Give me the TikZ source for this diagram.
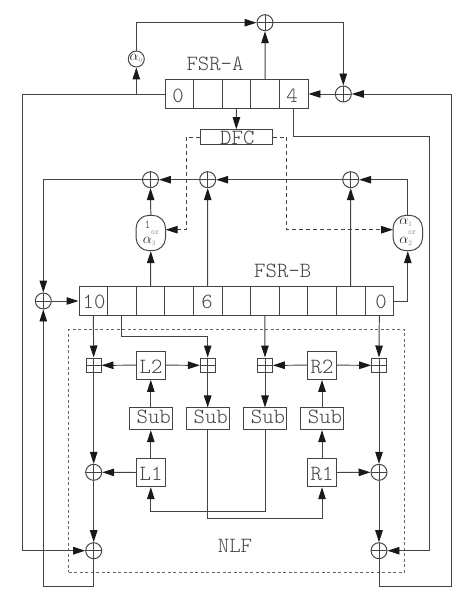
\documentclass[tikz,border=0pt]{standalone}
\usepackage{fontspec}
\setmonofont{Latin Modern Mono Light}
\usetikzlibrary{arrows.meta,calc}
\definecolor{ink}{HTML}{444444}
\tikzset{
  x=1pt,y=-1pt,
  every node/.style={text=ink,font=\fontsize{21.7}{21.7}\ttfamily},
  wire/.style={draw=ink,line width=0.98pt},
  arr/.style={wire,-{Triangle[length=12pt,width=7.5pt,color=black!90]}},
  dsh/.style={wire,dash pattern=on 4pt off 3pt},
  xorn/.style={draw=ink,circle,minimum size=16pt,inner sep=0pt,line width=0.98pt,path picture={
    \draw[ink,line width=0.98pt] (path picture bounding box.north)--(path picture bounding box.south)
    (path picture bounding box.west)--(path picture bounding box.east);}},
  addn/.style={draw=ink,rectangle,minimum size=14.6pt,inner sep=0pt,line width=0.98pt,path picture={
    \draw[ink,line width=0.98pt] (path picture bounding box.north)--(path picture bounding box.south)
    (path picture bounding box.west)--(path picture bounding box.east);}},
  cell/.style={draw=ink,rectangle,minimum width=28.6pt,minimum height=28.6pt,inner sep=0pt,line width=0.98pt},
  boxn/.style={draw=ink,rectangle,minimum width=29pt,minimum height=28.4pt,inner sep=0pt,line width=0.98pt},
  subn/.style={draw=ink,rectangle,minimum width=43pt,minimum height=21.7pt,inner sep=0pt,line width=0.98pt},
  ovaln/.style={draw=ink,rectangle,rounded corners=13pt,minimum width=29.5pt,minimum height=35.4pt,inner sep=0pt,line width=0.98pt},
  lab/.style={inner sep=0pt},
  alf/.style={inner sep=0pt,font=\fontsize{15}{15}\selectfont,text=black!85},
  orl/.style={inner sep=0pt,font=\fontsize{8}{8}\ttfamily,text=black!55},
}
\newcommand{\alf}[1]{$\alpha_{\scriptscriptstyle\textcolor{black!45}{#1}}$}
\begin{document}
\begin{tikzpicture}
\useasboundingbox (0,0) rectangle (474,609);
% FSR-A
\foreach \i in {0,...,4}{
  \node[cell] (a\i) at ({179.3+28.6*\i},94) {};
}
\node[lab] (ta0) at (178,96) {0};
\node[lab] (ta4) at (292,96) {4};
\node[lab] (fa) at (215,64) {FSR-A};
% FSR-B
\foreach \i in {0,...,10}{
  \node[cell] (b\i) at ({93.3+28.6*\i},301) {};
}
\node[lab] (tb0) at (94,302) {10};
\node[lab] (tb4) at (207,302) {6};
\node[lab] (tb10) at (381,302) {0};
\node[lab] (fb) at (282.7,271) {FSR-B};
% DFC
\node[draw=ink,rectangle,minimum width=72pt,minimum height=14.6pt,inner sep=0pt,line width=0.98pt] (dfc) at (236.3,137) {};
\node[lab] (tdfc) at (237.3,137.5) {DFC};
% xors
\node[xorn] (xt) at (265,22.7) {};
\node[xorn] (xa) at (343.3,94) {};
\node[xorn] (x1) at (150.5,179.7) {};
\node[xorn] (x2) at (207.7,179.7) {};
\node[xorn] (x3) at (350.7,179.7) {};
\node[xorn] (xl) at (43.3,301) {};
\node[xorn] (xm1) at (93.7,472.3) {};
\node[xorn] (xm2) at (379,472.3) {};
\node[xorn] (xb1) at (93.7,550.7) {};
\node[xorn] (xb2) at (379,550.7) {};
% alpha0
\node[draw=ink,circle,minimum size=16pt,inner sep=0pt,line width=0.98pt] (a0c) at (136.3,59) {};
\node[alf] (ta) at (136.3,58.5) {\alf{0}};
% ovals
\node[ovaln] (o1) at (150.8,233) {};
\node[ovaln] (o2) at (407.8,233) {};
\node[lab,font=\fontsize{12}{12}\ttfamily] (t1) at (147.5,224.5) {1};
\node[orl] (t2) at (155,232.5) {or};
\node[alf] (t3) at (149.5,241.5) {\alf{3}};
\node[alf] (t4) at (406,222.5) {\alf{1}};
\node[orl] (t5) at (412,232.5) {or};
\node[alf] (t6) at (406,241.5) {\alf{2}};
% NLF
\node[draw=black!60,rectangle,dash pattern=on 3pt off 2.5pt,minimum width=336pt,minimum height=242.6pt,inner sep=0pt,line width=0.7pt] (nlf) at (236.7,451) {};
\node[lab] (tn) at (235,545.7) {NLF};
% adders
\node[addn] (p1) at (93.7,365.3) {};
\node[addn] (p2) at (207.7,365.3) {};
\node[addn] (p3) at (265,365.3) {};
\node[addn] (p4) at (379,365.3) {};
% boxes
\node[boxn] (l2) at (150.8,365.2) {};
\node[lab] (tl2) at (151,367) {L2};
\node[boxn] (r2) at (322,365.2) {};
\node[lab] (tr2) at (322,367) {R2};
\node[boxn] (l1) at (150.8,472.5) {};
\node[lab] (tl1) at (151,474) {L1};
\node[boxn] (r1) at (322,472.5) {};
\node[lab] (tr1) at (322,474) {R1};
\foreach \n/\x in {s1/150.8,s2/207.7,s3/265,s4/322}{
  \node[subn] (\n) at (\x,418.8) {};
  \node[lab] (t\n) at (\x+3,417.3) {Sub};
}
% named free ends
\coordinate (ll) at (22.3,94);
\coordinate (llb) at (22.3,550.7);
\coordinate (a0tap) at (136.3,94);
\coordinate (rt) at (451,94);
\coordinate (rb) at (451,586);
\coordinate (lb) at (43.3,586);
\coordinate (r4) at (429.3,136.7);
\coordinate (r4b) at (429.3,550.7);
\coordinate (a4b) at (293.7,108.3);
\coordinate (fl1) at (186.3,137);
\coordinate (fl2) at (186.3,229.7);
\coordinate (fl3) at (178,229.7);
\coordinate (ol) at (165.6,229.7);
\coordinate (fr1) at (286.3,137);
\coordinate (fr2) at (286.3,229.7);
\coordinate (fr3) at (381,229.7);
\coordinate (or) at (393,229.7);
\coordinate (o2t) at (407.8,179.7);
\coordinate (bb1) at (122,336.7);
\coordinate (bb2) at (207.7,336.7);
\coordinate (s2b) at (207.7,518.7);
\coordinate (r1b) at (322,518.7);
\coordinate (s3b) at (265,511.3);
\coordinate (l1b) at (150.8,511.3);
% connectors top
\draw[arr] (ll) -- (llb) -- (xb1.west);
\draw[wire] (a0.west) -- (ll);
\draw[arr] (a0tap) -- (a0c.south);
\draw[arr] (a0c.north) |- (xt.west);
\draw[arr] (a3.north) -- (xt.south);
\draw[arr] (xt.east) -| (xa.north);
\draw[arr] (xa.west) -- (a4.east);
\draw[arr] (rt) -- (xa.east);
\draw[wire] (xb2.south) |- (rb) -- (rt);
\draw[wire] (a4b) |- (r4) -- (r4b);
\draw[arr] (r4b) -- (xb2.east);
\draw[arr] (a2.south) -- (dfc.north);
% dashed
\draw[dsh] (dfc.west) -- (fl1) -- (fl2) -- (fl3);
\draw[arr] (fl3) -- (ol);
\draw[dsh] (dfc.east) -- (fr1) -- (fr2) -- (fr3);
\draw[arr] (fr3) -- (or);
% FSR-B feed
\draw[wire] (o2.north) -- (o2t);
\draw[arr] (o2t) -- (x3.east);
\draw[arr] (x3.west) -- (x2.east);
\draw[arr] (x2.west) -- (x1.east);
\draw[arr] (x1.west) -| (xl.north);
\draw[arr] (o1.north) -- (x1.south);
\draw[arr] (b2.north) -- (o1.south);
\draw[arr] (b4.north) -- (x2.south);
\draw[arr] (b9.north) -- (x3.south);
\draw[arr] (b10.east) -| (o2.south);
\draw[arr] (xl.east) -- (b0.west);
\draw[arr] (xb1.south) |- (lb) -- (xl.south);
% NLF
\draw[arr] (b0.south) -- (p1.north);
\draw[arr] (b1.south) |- (bb1) -- (bb2) -- (p2.north);
\draw[arr] (b6.south) -- (p3.north);
\draw[arr] (b10.south) -- (p4.north);
\draw[arr] (l2.west) -- (p1.east);
\draw[arr] (l2.east) -- (p2.west);
\draw[arr] (r2.west) -- (p3.east);
\draw[arr] (r2.east) -- (p4.west);
\draw[arr] (p2.south) -- (s2.north);
\draw[arr] (p3.south) -- (s3.north);
\draw[arr] (s1.north) -- (l2.south);
\draw[arr] (s4.north) -- (r2.south);
\draw[arr] (l1.north) -- (s1.south);
\draw[arr] (r1.north) -- (s4.south);
\draw[arr] (p1.south) -- (xm1.north);
\draw[arr] (p4.south) -- (xm2.north);
\draw[arr] (xm1.south) -- (xb1.north);
\draw[arr] (xm2.south) -- (xb2.north);
\draw[arr] (l1.west) -- (xm1.east);
\draw[arr] (r1.east) -- (xm2.west);
\draw[arr] (s2.south) -- (s2b) -- (r1b) -- (r1.south);
\draw[arr] (s3.south) -- (s3b) -- (l1b) -- (l1.south);
\end{tikzpicture}
\end{document}
